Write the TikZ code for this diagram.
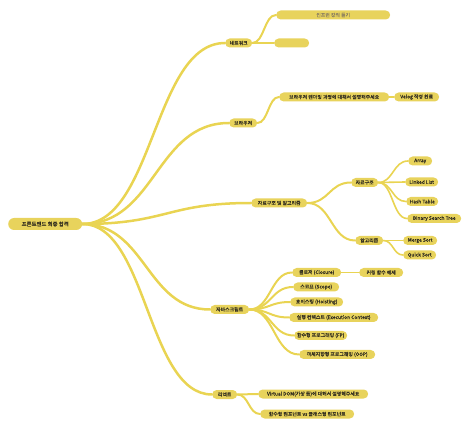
\documentclass[tikz,border=0pt]{standalone}
\usepackage{fontspec}
\setmainfont{Noto Sans CJK KR}
\newfontfamily\mmfont{Noto Sans CJK KR}[FakeBold=0.35]
\usetikzlibrary{calc,backgrounds}
\definecolor{nodec}{HTML}{E8D35C}
\definecolor{linkc}{HTML}{E9D452}
\definecolor{txtc}{HTML}{2E2A1E}
\definecolor{mutedc}{HTML}{8C8060}
\tikzset{
 mm/.style={fill=nodec, text=txtc, rounded corners=4.5pt, minimum height=9pt, inner ysep=0pt, inner xsep=2pt, anchor=west, font=\mmfont\fontsize{4.9}{5}\selectfont},
 rootbox/.style={mm, minimum height=12pt, rounded corners=6pt, font=\mmfont\fontsize{5.4}{6}\selectfont},
 curvy/.style={draw=linkc, line cap=round, to path={let \p1=(\tikztostart), \p2=(\tikztotarget) in .. controls ({0.5*\x1+0.5*\x2},\y1) and ({0.5*\x1+0.5*\x2},\y2) .. (\tikztotarget)}},
 l1/.style={curvy, line width=2.5pt},
 l2/.style={curvy, line width=2pt},
 l3/.style={curvy, line width=1.6pt},
}
\begin{document}
\begin{tikzpicture}[x=1pt,y=-1pt]
\useasboundingbox (0,0) rectangle (474,430);
% root
\node[rootbox, minimum width=74pt] (root) at (8,224) {프론트엔드 최종 합격};
% level 1
\node[mm, minimum width=27pt] (net) at (225,43) {네트워크};
\node[mm, minimum width=28pt] (br) at (229,123) {브라우저};
\node[mm, minimum width=56pt] (ds) at (251,203) {자료구조 및 알고리즘};
\node[mm, minimum width=39pt] (js) at (210,309.5) {자바스크립트};
\node[mm, minimum width=25pt] (react) at (212,394.5) {리액트};
% network
\node[mm, minimum width=114pt, text=mutedc] (inf) at (276,15) {인프런 강의 듣기};
\node[mm, minimum width=35pt] (empty) at (274,43) {};
% browser
\node[mm, minimum width=110pt] (brq) at (279,97) {브라우저 렌더링 과정에 대해서 설명해주세요};
\node[mm, minimum width=45pt] (velog) at (394,97) {Velog 작성 완료};
% data structures
\node[mm, minimum width=27pt] (dsa) at (351,182.5) {자료구조};
\node[mm, minimum width=24pt] (array) at (408,161) {Array};
\node[mm, minimum width=33pt] (linked) at (405,182) {Linked List};
\node[mm, minimum width=32pt] (hash) at (406,201.5) {Hash Table};
\node[mm, minimum width=54pt] (bst) at (407,218.5) {Binary Search Tree};
\node[mm, minimum width=28pt] (algo) at (355,240.5) {알고리즘};
\node[mm, minimum width=34pt] (merge) at (403,240.5) {Merge Sort};
\node[mm, minimum width=33pt] (quick) at (403,255) {Quick Sort};
% javascript
\node[mm, minimum width=49pt] (closure) at (292,272.5) {클로저 (Closure)};
\node[mm, minimum width=44pt] (curry) at (359,272.5) {커링 함수 예제};
\node[mm, minimum width=46pt] (scope) at (293,287) {스코프 (Scope)};
\node[mm, minimum width=53pt] (hoist) at (290,302) {호이스팅 (Hoisting)};
\node[mm, minimum width=89pt] (exec) at (289,317.5) {실행 컨텍스트 (Execution Context)};
\node[mm, minimum width=53pt] (fp) at (294,335.5) {함수형 프로그래밍 (FP)};
\node[mm, minimum width=76pt] (oop) at (299,354.5) {객체지향형 프로그래밍 (OOP)};
% react
\node[mm, minimum width=110pt] (vdom) at (258,394) {Virtual DOM(가상 돔)에 대해서 설명해주세요};
\node[mm, minimum width=94pt] (comp) at (260,414) {함수형 컴포넌트 vs 클래스형 컴포넌트};
\begin{scope}[on background layer]
\draw[l1] (root.east) to (net.west);
\draw[l1] (root.east) to (br.west);
\draw[l1] (root.east) to (ds.west);
\draw[l1] (root.east) to (js.west);
\draw[l1] (root.east) to (react.west);
\draw[l2] (net.east) to (inf.west);
\draw[l2] (net.east) to (empty.west);
\draw[l2] (br.east) to (brq.west);
\draw[l3] (brq.east) to (velog.west);
\draw[l2] (ds.east) to (dsa.west);
\draw[l2] (ds.east) to (algo.west);
\draw[l3] (dsa.east) to (array.west);
\draw[l3] (dsa.east) to (linked.west);
\draw[l3] (dsa.east) to (hash.west);
\draw[l3] (dsa.east) to (bst.west);
\draw[l3] (algo.east) to (merge.west);
\draw[l3] (algo.east) to (quick.west);
\draw[l2] (js.east) to (closure.west);
\draw[l2] (js.east) to (scope.west);
\draw[l2] (js.east) to (hoist.west);
\draw[l2] (js.east) to (exec.west);
\draw[l2] (js.east) to (fp.west);
\draw[l2] (js.east) to (oop.west);
\draw[l3] (closure.east) to (curry.west);
\draw[l2] (react.east) to (vdom.west);
\draw[l2] (react.east) to (comp.west);
\end{scope}
\end{tikzpicture}
\end{document}
